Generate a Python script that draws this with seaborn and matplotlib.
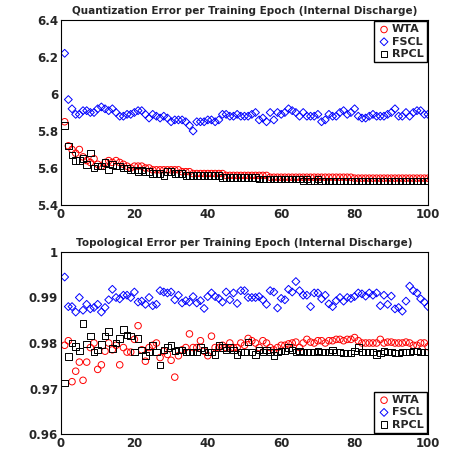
import numpy as np
import pandas as pd
import seaborn as sns
import matplotlib.pyplot as plt

epochs = list(range(1, 101))

qe_fscl = [6.22,5.97,5.92,5.89,5.89,5.91,5.91,5.90,5.90,5.92,
           5.93,5.92,5.91,5.92,5.90,5.88,5.88,5.89,5.89,5.90,
           5.91,5.91,5.89,5.87,5.89,5.88,5.87,5.88,5.87,5.85,
           5.86,5.86,5.86,5.85,5.83,5.80,5.85,5.85,5.85,5.86,
           5.86,5.85,5.86,5.89,5.89,5.88,5.88,5.89,5.88,5.88,
           5.88,5.89,5.90,5.86,5.87,5.85,5.90,5.86,5.90,5.89,
           5.90,5.92,5.91,5.90,5.88,5.90,5.88,5.88,5.88,5.89,
           5.85,5.86,5.89,5.88,5.88,5.90,5.91,5.89,5.90,5.92,
           5.88,5.87,5.87,5.88,5.89,5.88,5.88,5.88,5.89,5.90,
           5.92,5.88,5.88,5.90,5.88,5.90,5.91,5.91,5.89,5.89]
qe_wta = [5.85,5.72,5.70,5.68,5.70,5.66,5.64,5.63,5.65,5.62,
          5.61,5.63,5.64,5.63,5.64,5.63,5.62,5.61,5.60,5.61,
          5.61,5.61,5.60,5.60,5.59,5.59,5.59,5.59,5.59,5.59,
          5.59,5.59,5.58,5.58,5.58,5.57,5.57,5.57,5.57,5.57,
          5.57,5.57,5.57,5.57,5.56,5.56,5.56,5.56,5.56,5.56,
          5.56,5.56,5.56,5.56,5.56,5.56,5.55,5.55,5.55,5.55,
          5.55,5.55,5.55,5.55,5.55,5.55,5.55,5.55,5.55,5.55,
          5.55,5.55,5.55,5.55,5.55,5.55,5.55,5.55,5.55,5.545,
          5.545,5.545,5.545,5.545,5.545,5.545,5.545,5.545,5.545,5.545,
          5.545,5.545,5.545,5.545,5.545,5.545,5.545,5.545,5.545,5.545]
qe_rpcl = [5.83,5.72,5.67,5.64,5.64,5.65,5.62,5.68,5.60,5.61,
           5.61,5.63,5.59,5.62,5.61,5.61,5.60,5.60,5.59,5.59,
           5.58,5.59,5.58,5.58,5.57,5.57,5.57,5.56,5.58,5.58,
           5.57,5.57,5.57,5.56,5.56,5.56,5.56,5.56,5.56,5.56,
           5.56,5.56,5.56,5.55,5.55,5.55,5.55,5.55,5.55,5.55,
           5.55,5.55,5.55,5.54,5.54,5.54,5.54,5.54,5.54,5.54,
           5.54,5.54,5.54,5.54,5.54,5.53,5.54,5.53,5.53,5.54,
           5.53,5.53,5.53,5.53,5.53,5.53,5.53,5.53,5.53,5.53,
           5.53,5.53,5.53,5.53,5.53,5.53,5.53,5.53,5.53,5.53,
           5.53,5.53,5.53,5.53,5.53,5.53,5.53,5.53,5.53,5.53]

te_wta = [.9795,.9805,.9715,.9738,.9758,.9718,.9758,.9790,.9800,.9742,
          .9752,.9782,.9800,.9785,.9795,.9752,.9790,.9780,.9780,.9808,
          .9838,.9785,.9760,.9790,.9795,.9800,.9768,.9782,.9775,.9762,
          .9725,.9772,.9785,.9790,.9820,.9790,.9790,.9805,.9782,.9772,
          .9815,.9790,.9790,.9795,.9790,.9800,.9790,.9790,.9800,.9795,
          .9810,.9805,.9800,.9790,.9805,.9800,.9790,.9785,.9790,.9795,
          .9795,.9798,.9800,.9802,.9790,.9800,.9808,.9802,.9800,.9805,
          .9805,.9800,.9805,.9805,.9808,.9808,.9805,.9808,.9808,.9812,
          .9805,.9800,.9800,.9800,.9800,.9800,.9808,.9800,.9802,.9802,
          .9800,.9800,.9800,.9802,.9800,.9795,.9795,.9800,.9800,.9792]
te_fscl = [.9945,.9880,.9880,.9868,.9900,.9872,.9885,.9875,.9878,.9885,
           .9868,.9878,.9895,.9918,.9900,.9897,.9905,.9905,.9900,.9912,
           .9890,.9892,.9885,.9900,.9882,.9885,.9915,.9912,.9910,.9912,
           .9895,.9905,.9888,.9893,.9890,.9902,.9888,.9893,.9876,.9902,
           .9910,.9902,.9898,.9890,.9912,.9895,.9910,.9887,.9915,.9915,
           .9900,.9900,.9900,.9902,.9895,.9885,.9915,.9912,.9877,.9898,
           .9895,.9918,.9912,.9935,.9915,.9905,.9905,.9880,.9910,.9910,
           .9897,.9905,.9886,.9880,.9893,.9900,.9892,.9900,.9898,.9902,
           .9910,.9908,.9903,.9910,.9905,.9910,.9882,.9905,.9885,.9903,
           .9875,.9878,.9870,.9892,.9925,.9915,.9910,.9897,.9890,.9880]
te_rpcl = [.9712,.9770,.9800,.9792,.9782,.9843,.9798,.9815,.9780,.9785,
           .9797,.9815,.9825,.9788,.9800,.9810,.9830,.9818,.9815,.9780,
           .9810,.9785,.9772,.9780,.9795,.9780,.9752,.9785,.9790,.9795,
           .9782,.9785,.9785,.9780,.9780,.9780,.9780,.9790,.9785,.9780,
           .9780,.9775,.9795,.9790,.9785,.9790,.9785,.9775,.9780,.9780,
           .9802,.9780,.9775,.9785,.9780,.9785,.9780,.9772,.9780,.9782,
           .9782,.9790,.9785,.9780,.9782,.9780,.9780,.9780,.9780,.9782,
           .9780,.9780,.9780,.9785,.9780,.9780,.9778,.9778,.9778,.9782,
           .9790,.9780,.9780,.9780,.9780,.9775,.9778,.9782,.9780,.9780,
           .9778,.9778,.9780,.9780,.9780,.9782,.9782,.9780,.9780,.9780]

series_names = ['WTA', 'FSCL', 'RPCL']
series_colors = ['red', 'blue', 'black']
series_markers = ['o', 'D', 's']

sns.set_style('white')
plt.rcParams['font.family'] = ['DejaVu Sans']

fig = plt.figure(figsize=(4.74, 4.59), dpi=100)
ax_top = fig.add_axes([61/474, 254/459, 367/474, 185/459])
ax_bot = fig.add_axes([61/474, 25/459, 367/474, 182/459])


def draw(ax, values, title, ylim, yticks, yticklabels, legend_loc):
    for name, vals, col, mk in zip(series_names, values, series_colors, series_markers):
        sns.scatterplot(x=epochs, y=vals, ax=ax, marker=mk, s=22 if mk != 'D' else 16,
                        facecolors='none', edgecolor=col, linewidth=0.7, label=name)
    ax.set_xlim(0, 100)
    ax.set_ylim(*ylim)
    ax.set_xticks([0, 20, 40, 60, 80, 100])
    ax.set_yticks(yticks)
    ax.set_yticklabels(yticklabels)
    ax.tick_params(direction='in', length=3, labelsize=8.5, pad=2)
    for lbl in ax.get_xticklabels() + ax.get_yticklabels():
        lbl.set_fontweight('bold')
    for sp in ax.spines.values():
        sp.set_color('black')
        sp.set_linewidth(0.8)
    ax.set_title(title, fontsize=7.5, fontweight='bold', pad=4)
    leg = ax.legend(loc=legend_loc, fontsize=8, handletextpad=0.1, borderpad=0.3,
                    labelspacing=0.2, handlelength=1.2, fancybox=False, framealpha=1,
                    borderaxespad=0.1, prop={'weight': 'bold', 'size': 8})
    leg.get_frame().set_edgecolor('black')


draw(ax_top, [qe_wta, qe_fscl, qe_rpcl],
     'Quantization Error per Training Epoch (Internal Discharge)',
     (5.4, 6.4), [5.4, 5.6, 5.8, 6.0, 6.2, 6.4], ['5.4', '5.6', '5.8', '6', '6.2', '6.4'],
     'upper right')
draw(ax_bot, [te_wta, te_fscl, te_rpcl],
     'Topological Error per Training Epoch (Internal Discharge)',
     (0.96, 1.0), [0.96, 0.97, 0.98, 0.99, 1.0], ['0.96', '0.97', '0.98', '0.99', '1'],
     'lower right')

fig.savefig('out.png', dpi=100, facecolor='white')
